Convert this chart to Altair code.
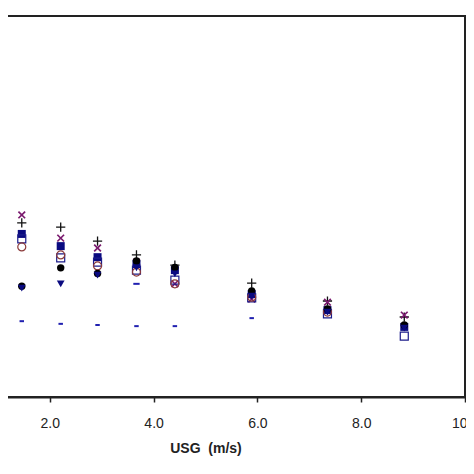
import altair as alt
import pandas as pd

usg = [1.46, 2.21, 2.92, 3.67, 4.41, 5.89, 7.35, 8.83]

series_names = ["plus", "cross", "sq_filled", "sq_open", "circ_open", "circ_filled", "tri_down", "dash_a", "dash_b"]
plus_vals =        [45.7, 44.6, 40.9, 37.3, 34.6, 29.9, 25.2, 21.0]
cross_vals =       [47.8, 41.7, 39.1, 35.4, 29.7, 25.7, 24.9, 21.5]
sq_filled_vals =   [42.8, 39.6, 36.7, 34.9, 33.3, 27.0, 22.8, 18.4]
sq_open_vals =     [41.5, 36.5, 35.4, 33.3, 30.7, 26.0, 21.8, 16.0]
circ_open_vals =   [39.4, 37.3, 34.4, 32.8, 29.7, 26.2, 22.3, None]
circ_filled_vals = [29.1, 33.9, 32.4, 35.7, 34.0, 27.8, 23.1, 18.9]
tri_down_vals =    [28.6, 29.7, 32.0, 33.9, 32.3, 26.5, 22.3, 18.1]
dash_a_vals =      [19.9, 19.2, 18.9, 18.6, 18.6, 20.7, None, None]
dash_b_vals =      [None, None, None, 29.7, None, None, None, None]

values = {
    "plus": plus_vals, "cross": cross_vals, "sq_filled": sq_filled_vals,
    "sq_open": sq_open_vals, "circ_open": circ_open_vals,
    "circ_filled": circ_filled_vals, "tri_down": tri_down_vals,
    "dash_a": dash_a_vals, "dash_b": dash_b_vals,
}

styles = {
    "plus": dict(shape="M-1,0L1,0M0,-1L0,1", filled=False, stroke="#111111", strokeWidth=1.3, size=85),
    "cross": dict(shape="M-1,-1L1,1M-1,1L1,-1", filled=False, stroke="#7a1a6e", strokeWidth=1.7, size=45),
    "sq_filled": dict(shape="square", filled=True, fill="#0a0a80", size=64),
    "sq_open": dict(shape="square", filled=False, stroke="#1c1c8a", strokeWidth=1.2, size=64),
    "circ_open": dict(shape="circle", filled=False, stroke="#8b3a3a", strokeWidth=1.2, size=64),
    "circ_filled": dict(shape="circle", filled=True, fill="#000000", size=55),
    "tri_down": dict(shape="triangle-down", filled=True, fill="#0a0a80", size=60),
    "dash_a": dict(shape="M-1,0L1,0", filled=False, stroke="#2020b0", strokeWidth=2, size=20),
    "dash_b": dict(shape="M-1,0L1,0", filled=False, stroke="#2020b0", strokeWidth=2, size=40),
}

rows = []
for name in series_names:
    for xv, yv in zip(usg, values[name]):
        if yv is not None:
            rows.append({"series": name, "usg": xv, "val": yv})
df = pd.DataFrame(rows)

xenc = alt.X("usg:Q", scale=alt.Scale(domain=[0, 10]),
             axis=alt.Axis(title="USG\u00a0\u00a0(m/s)", values=[2, 4, 6, 8, 10], format=".1f",
                           grid=False, domainColor="#222222", domainWidth=2,
                           tickColor="#222222", tickSize=5, tickWidth=1.5,
                           labelFlush=False, labelOverlap=False,
                           labelFont="Liberation Sans", labelFontSize=14, labelColor="#222222",
                           labelPadding=14,
                           titleFont="Liberation Sans", titleFontSize=14, titleFontWeight="bold",
                           titleColor="#222222", titlePadding=11))
yenc = alt.Y("val:Q", scale=alt.Scale(domain=[0, 100]), axis=None)

layers = []
for name in series_names:
    st = dict(styles[name])
    layers.append(
        alt.Chart(df).transform_filter(alt.datum.series == name)
        .mark_point(opacity=1, **st)
        .encode(x=xenc, y=yenc)
    )

chart = alt.layer(*layers).properties(
    width=519, height=381,
    background="white",
    autosize=alt.AutoSizeParams(type="none"),
    padding={"left": -62, "top": 8, "right": 1, "bottom": 69},
).configure_view(stroke="#222222", strokeWidth=2)

chart.save("out.html", embed_options={"renderer": "svg", "actions": False})
